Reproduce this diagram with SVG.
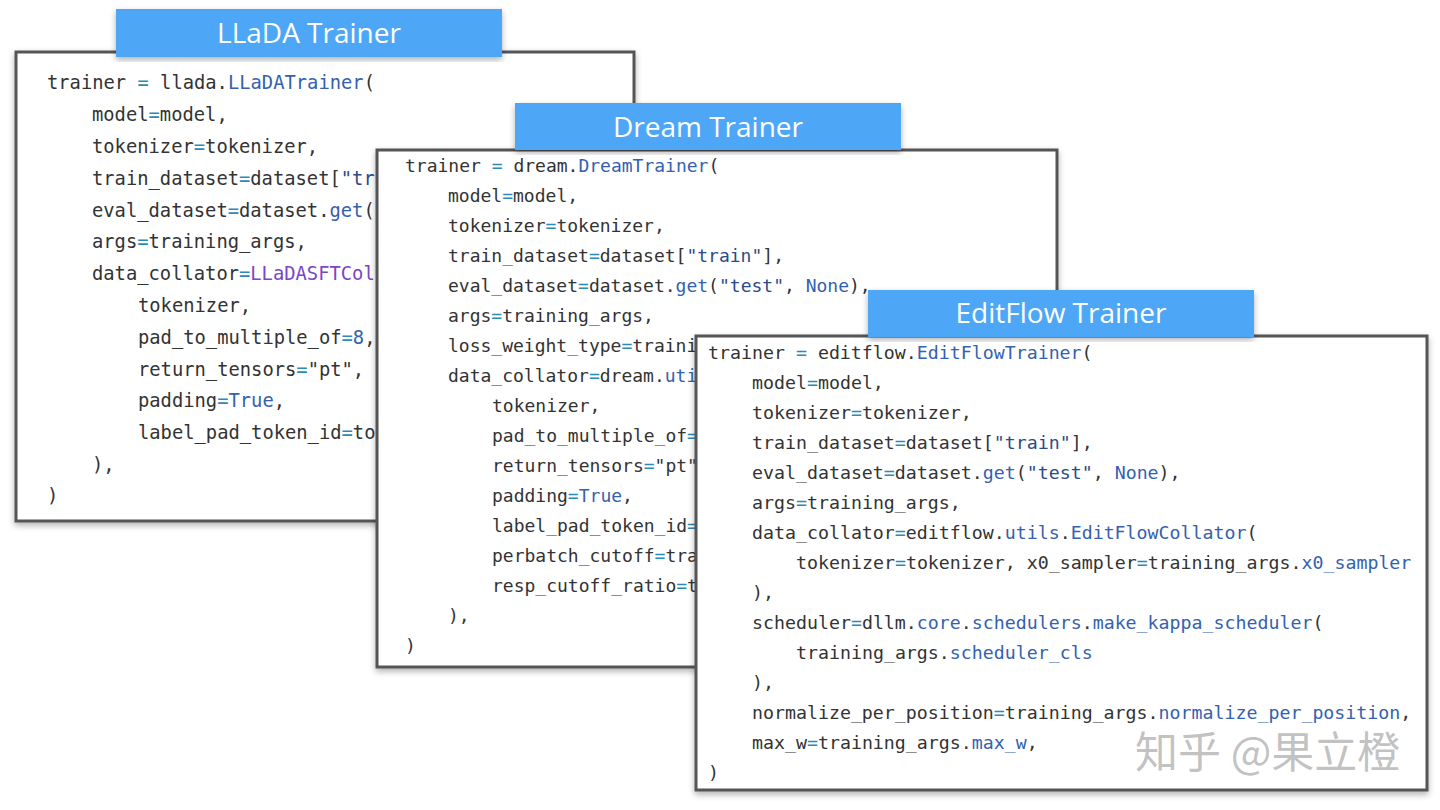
<svg xmlns="http://www.w3.org/2000/svg" width="1440" height="810" viewBox="0 0 1440 810">
<defs>
<filter id="sh" x="-5%" y="-5%" width="110%" height="115%"><feDropShadow dx="0" dy="3" stdDeviation="3" flood-color="#000" flood-opacity="0.3"/></filter>
</defs>
<style>
.box{fill:#fff;stroke:#555;stroke-width:3;filter:url(#sh)}
.lab{fill:#4ea7f6;filter:url(#sh)}
.lt{font-family:"Open Sans","Lato",sans-serif;font-size:28px;fill:#fff;text-anchor:middle}
.c{font-family:"DejaVu Sans Mono",monospace;fill:#333;white-space:pre}
.a{font-size:18.8px}.b{font-size:18px}.f{font-size:18.25px}
.e{fill:#2a8ab8}.k{fill:#3461b0}.p{fill:#7a45c8}.s{fill:#2c4a8a}
</style>
<rect width="1440" height="810" fill="#fff"/>
<g id="llada">
<rect class="box" x="16" y="52" width="618" height="469"/>
<rect class="lab" x="116" y="9" width="386" height="48"/>
<text class="lt" x="309" y="43">LLaDA Trainer</text>
<g class="c a">
<text x="47" y="89">trainer <tspan class="e">=</tspan> llada.<tspan class="k">LLaDATrainer</tspan>(</text>
<text x="92" y="121">model<tspan class="e">=</tspan>model,</text>
<text x="92" y="153">tokenizer<tspan class="e">=</tspan>tokenizer,</text>
<text x="92" y="185">train_dataset<tspan class="e">=</tspan>dataset[<tspan class="s">"tr</tspan></text>
<text x="92" y="217">eval_dataset<tspan class="e">=</tspan>dataset.<tspan class="k">get</tspan>(</text>
<text x="92" y="248">args<tspan class="e">=</tspan>training_args,</text>
<text x="92" y="280">data_collator<tspan class="e">=</tspan><tspan class="p">LLaDASFTCol</tspan></text>
<text x="138" y="312">tokenizer,</text>
<text x="138" y="344">pad_to_multiple_of<tspan class="e">=</tspan><tspan class="k">8</tspan>,</text>
<text x="138" y="376">return_tensors<tspan class="e">=</tspan>"pt",</text>
<text x="138" y="407">padding<tspan class="e">=</tspan><tspan class="k">True</tspan>,</text>
<text x="138" y="439">label_pad_token_id<tspan class="e">=</tspan>to</text>
<text x="92" y="471">),</text>
<text x="47" y="502">)</text>
</g>
</g>
<g id="dream">
<rect class="box" x="377" y="150" width="680" height="517"/>
<rect class="lab" x="515" y="103" width="386" height="47"/>
<text class="lt" x="708" y="137">Dream Trainer</text>
<g class="c b">
<text x="405" y="172">trainer <tspan class="e">=</tspan> dream.<tspan class="k">DreamTrainer</tspan>(</text>
<text x="448" y="202">model<tspan class="e">=</tspan>model,</text>
<text x="448" y="232">tokenizer<tspan class="e">=</tspan>tokenizer,</text>
<text x="448" y="262">train_dataset<tspan class="e">=</tspan>dataset[<tspan class="s">"train"</tspan>],</text>
<text x="448" y="292">eval_dataset<tspan class="e">=</tspan>dataset.<tspan class="k">get</tspan>(<tspan class="s">"test"</tspan>, <tspan class="k">None</tspan>),</text>
<text x="448" y="322">args<tspan class="e">=</tspan>training_args,</text>
<text x="448" y="352">loss_weight_type<tspan class="e">=</tspan>traini</text>
<text x="448" y="382">data_collator<tspan class="e">=</tspan>dream.<tspan class="k">uti</tspan></text>
<text x="492" y="412">tokenizer,</text>
<text x="492" y="442">pad_to_multiple_of<tspan class="e">=</tspan></text>
<text x="492" y="472">return_tensors<tspan class="e">=</tspan>"pt"</text>
<text x="492" y="502">padding<tspan class="e">=</tspan><tspan class="k">True</tspan>,</text>
<text x="492" y="532">label_pad_token_id<tspan class="e">=</tspan></text>
<text x="492" y="562">perbatch_cutoff<tspan class="e">=</tspan>tra</text>
<text x="492" y="592">resp_cutoff_ratio<tspan class="e">=</tspan>t</text>
<text x="448" y="622">),</text>
<text x="405" y="652">)</text>
</g>
</g>
<g id="editflow">
<rect class="box" x="696" y="336" width="731" height="454"/>
<rect class="lab" x="868" y="290" width="386" height="47"/>
<text class="lt" x="1061" y="323">EditFlow Trainer</text>
<g class="c f">
<text x="708" y="359">trainer <tspan class="e">=</tspan> editflow.<tspan class="k">EditFlowTrainer</tspan>(</text>
<text x="752" y="389">model<tspan class="e">=</tspan>model,</text>
<text x="752" y="419">tokenizer<tspan class="e">=</tspan>tokenizer,</text>
<text x="752" y="449">train_dataset<tspan class="e">=</tspan>dataset[<tspan class="s">"train"</tspan>],</text>
<text x="752" y="479">eval_dataset<tspan class="e">=</tspan>dataset.<tspan class="k">get</tspan>(<tspan class="s">"test"</tspan>, <tspan class="k">None</tspan>),</text>
<text x="752" y="509">args<tspan class="e">=</tspan>training_args,</text>
<text x="752" y="539">data_collator<tspan class="e">=</tspan>editflow.<tspan class="k">utils</tspan>.<tspan class="k">EditFlowCollator</tspan>(</text>
<text x="796" y="569">tokenizer<tspan class="e">=</tspan>tokenizer, x0_sampler<tspan class="e">=</tspan>training_args.<tspan class="k">x0_sampler</tspan></text>
<text x="752" y="599">),</text>
<text x="752" y="629">scheduler<tspan class="e">=</tspan>dllm.<tspan class="k">core</tspan>.<tspan class="k">schedulers</tspan>.<tspan class="k">make_kappa_scheduler</tspan>(</text>
<text x="796" y="659">training_args.<tspan class="k">scheduler_cls</tspan></text>
<text x="752" y="689">),</text>
<text x="752" y="719">normalize_per_position<tspan class="e">=</tspan>training_args.<tspan class="k">normalize_per_position</tspan>,</text>
<text x="752" y="749">max_w<tspan class="e">=</tspan>training_args.<tspan class="k">max_w</tspan>,</text>
<text x="708" y="779">)</text>
</g>
</g>
<text x="1135" y="768" font-family="'Noto Sans CJK SC',sans-serif" font-size="43" fill="#999" fill-opacity="0.6">知乎 @果立橙</text>
</svg>
